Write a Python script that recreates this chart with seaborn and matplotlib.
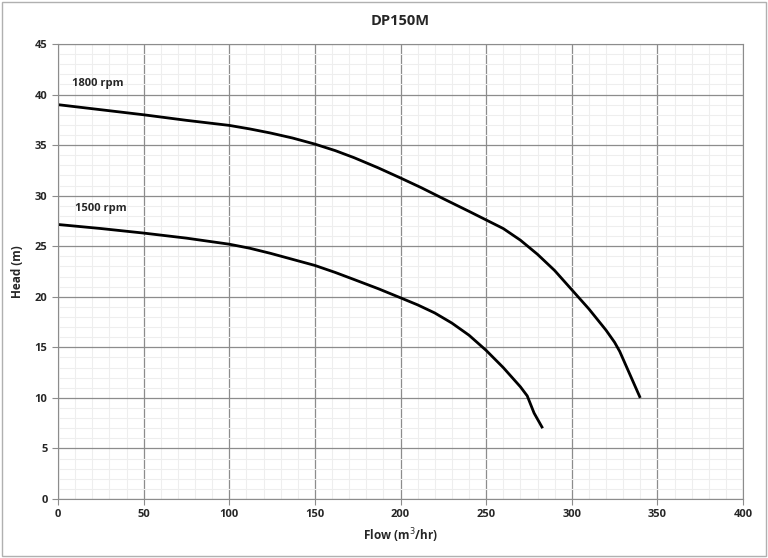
import matplotlib
matplotlib.use("Agg")
import matplotlib.pyplot as plt
from matplotlib.ticker import MultipleLocator
import seaborn as sns
import pandas as pd

flow_1800 = [0, 25, 50, 75, 100, 112, 124, 137, 150, 162, 173, 187, 200, 212, 225,
             240, 250, 260, 270, 280, 290, 300, 310, 320, 325, 328, 334, 340]
head_1800 = [39.0, 38.5, 38.0, 37.45, 36.95, 36.6, 36.2, 35.7, 35.1, 34.45, 33.75, 32.75, 31.75, 30.8, 29.7,
             28.45, 27.6, 26.75, 25.6, 24.2, 22.6, 20.7, 18.8, 16.7, 15.5, 14.6, 12.3, 10.0]
flow_1500 = [0, 25, 50, 75, 100, 112, 124, 137, 150, 162, 173, 187, 200, 210, 220,
             230, 240, 250, 260, 270, 274, 278, 283]
head_1500 = [27.15, 26.75, 26.3, 25.8, 25.2, 24.8, 24.3, 23.7, 23.1, 22.4, 21.7, 20.8, 19.9, 19.2, 18.4,
             17.4, 16.2, 14.7, 13.0, 11.1, 10.2, 8.5, 7.0]
labels = ["1800 rpm", "1500 rpm"]
title = "DP150M"
xlabel = "Flow (m$^3$/hr)"
ylabel = "Head (m)"

df = pd.concat([
    pd.DataFrame({"flow": flow_1800, "head": head_1800, "speed": labels[0]}),
    pd.DataFrame({"flow": flow_1500, "head": head_1500, "speed": labels[1]}),
])

sns.set_style("white")
plt.rcParams['font.family'] = ['Open Sans', 'DejaVu Sans']

fig = plt.figure(figsize=(7.68, 5.58), dpi=100)
ax = fig.add_axes([58/768, 1-499/558, (743-58)/768, (499-44)/558])

ax.set_xlim(0, 400)
ax.set_ylim(0, 45)
ax.xaxis.set_major_locator(MultipleLocator(50))
ax.xaxis.set_minor_locator(MultipleLocator(10))
ax.yaxis.set_major_locator(MultipleLocator(5))
ax.yaxis.set_minor_locator(MultipleLocator(1))
ax.grid(which="minor", color="#eeeeee", linewidth=0.8)
ax.grid(which="major", color="#8c8c8c", linewidth=0.9)
ax.set_axisbelow(True)

sns.lineplot(data=df, x="flow", y="head", hue="speed", palette=["black", "black"],
             linewidth=2.0, sort=False, estimator=None, legend=False, ax=ax)
for ln in ax.get_lines():
    ln.set_solid_joinstyle("round")
    ln.set_solid_capstyle("butt")

for s in ax.spines.values():
    s.set_color("#8c8c8c")
ax.tick_params(which="major", direction="out", length=4, color="#8c8c8c",
               bottom=True, left=True, labelsize=8)
ax.tick_params(which="minor", length=0)
for lab in ax.get_xticklabels() + ax.get_yticklabels():
    lab.set_fontweight("bold")

ax.set_xlabel(xlabel, fontsize=8.5, fontweight="bold", labelpad=4)
ax.set_ylabel(ylabel, fontsize=8.5, fontweight="bold", labelpad=8)
ax.set_title(title, fontsize=10.5, fontweight="bold", pad=14)

ax.text(8, 41.1, labels[0], fontsize=8, fontweight="bold", va="center", ha="left")
ax.text(10, 28.7, labels[1], fontsize=8, fontweight="bold", va="center", ha="left")

fig.patches.append(plt.Rectangle((0.002, 0.003), 0.996, 0.994, transform=fig.transFigure,
                                 fill=False, edgecolor="#b0b0b0", linewidth=1))

fig.savefig("out.png", dpi=100)
